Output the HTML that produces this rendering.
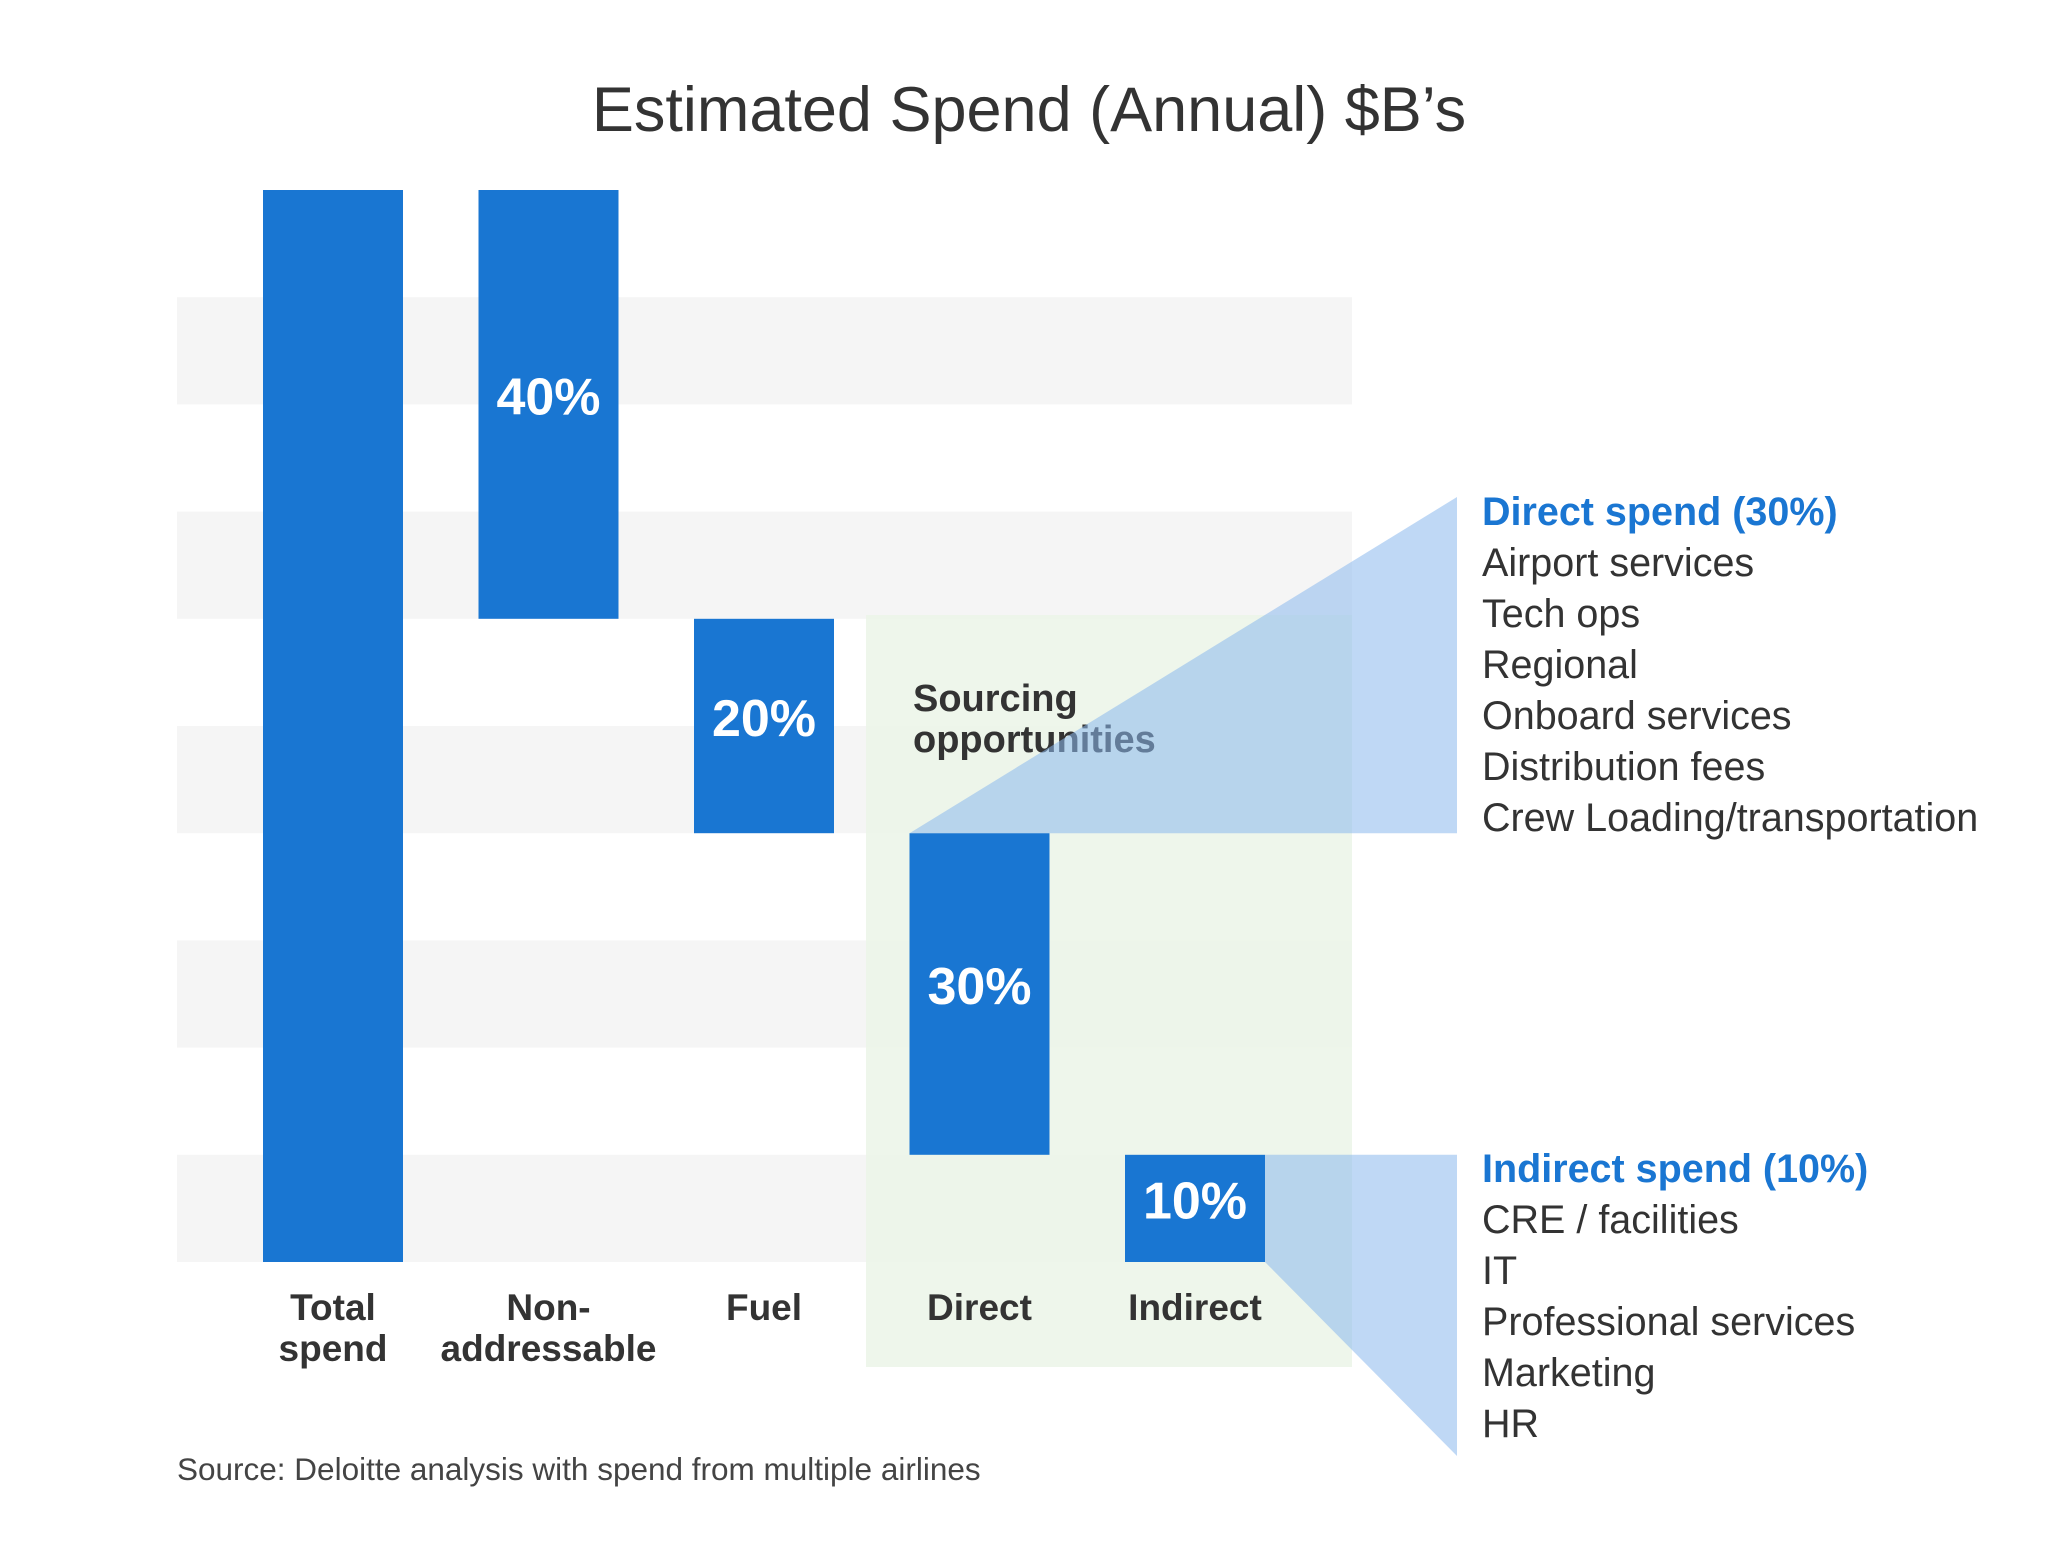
<!DOCTYPE html>
<html><head><meta charset="utf-8"><style>
html,body{margin:0;padding:0;background:#fff}
svg{display:block}
text{font-family:"Liberation Sans",sans-serif}
</style></head><body>
<svg id="chart" width="2048" height="1565" viewBox="0 0 2048 1565">
<text x="1029" y="131" text-anchor="middle" font-size="63" fill="#333">Estimated Spend (Annual) $B’s</text>
<g id="bands"></g>
<rect x="866" y="615" width="486" height="752" fill="#ebf5e8" opacity="0.85"/>
<g id="bars"></g>
<text font-size="38" font-weight="bold" fill="#333"><tspan x="913" y="711">Sourcing</tspan><tspan x="913" y="752">opportunities</tspan></text>
<polygon id="triDirect" fill="#8ab8ec" opacity="0.55"/>
<polygon id="triIndirect" fill="#8ab8ec" opacity="0.55"/>
<g id="labels"></g>
<g font-size="39.5" fill="#333">
<text x="1482" y="525" font-weight="bold" fill="#1a76d2">Direct spend (30%)</text>
<text x="1482" y="576">Airport services</text>
<text x="1482" y="627">Tech ops</text>
<text x="1482" y="678">Regional</text>
<text x="1482" y="729">Onboard services</text>
<text x="1482" y="780">Distribution fees</text>
<text x="1482" y="831">Crew Loading/transportation</text>
</g>
<g font-size="39.5" fill="#333">
<text x="1482" y="1182" font-weight="bold" fill="#1a76d2">Indirect spend (10%)</text>
<text x="1482" y="1233">CRE / facilities</text>
<text x="1482" y="1284">IT</text>
<text x="1482" y="1335">Professional services</text>
<text x="1482" y="1386">Marketing</text>
<text x="1482" y="1437">HR</text>
</g>
<text x="177" y="1480" font-size="31.5" fill="#444">Source: Deloitte analysis with spend from multiple airlines</text>
</svg>
<script>
const categories = [["Total","spend"],["Non-","addressable"],["Fuel"],["Direct"],["Indirect"]];
const values = [100, 40, 20, 30, 10];
const valueLabels = ["", "40%", "20%", "30%", "10%"];
const bandRanges = [[90,80],[70,60],[50,40],[30,20],[10,0]];

const NS = "http://www.w3.org/2000/svg";
const yTop = 190, yBot = 1262;
const y = v => yBot - (v / 100) * (yBot - yTop);
const x0 = 263, step = 215.5, bw = 140;
const xb = i => x0 + i * step;

const bands = document.getElementById('bands');
bandRanges.forEach(r => {
  const el = document.createElementNS(NS, 'rect');
  el.setAttribute('x', 177); el.setAttribute('width', 1175);
  el.setAttribute('y', y(r[0])); el.setAttribute('height', y(r[1]) - y(r[0]));
  el.setAttribute('fill', '#f5f5f5');
  
  
  bands.appendChild(el);
});

const bars = document.getElementById('bars');
const labels = document.getElementById('labels');
let level = values[0];
const geom = [];
values.forEach((v, i) => {
  let top, bottom;
  if (i === 0) { top = v; bottom = 0; }
  else { top = level; bottom = level - v; level = bottom; }
  const r = document.createElementNS(NS, 'rect');
  r.setAttribute('x', xb(i)); r.setAttribute('width', bw);
  r.setAttribute('y', y(top)); r.setAttribute('height', y(bottom) - y(top));
  r.setAttribute('fill', '#1976d2');
  
  
  bars.appendChild(r);
  geom.push({x: xb(i), top: y(top), bottom: y(bottom)});
  if (valueLabels[i]) {
    const t = document.createElementNS(NS, 'text');
    t.setAttribute('x', xb(i) + bw / 2);
    t.setAttribute('y', (y(top) + y(bottom)) / 2 + 10);
    t.setAttribute('text-anchor', 'middle');
    t.setAttribute('font-size', '52'); t.setAttribute('font-weight', 'bold');
    t.setAttribute('fill', '#fff');
    t.textContent = valueLabels[i];
    
    
    bars.appendChild(t);
  }
  const c = document.createElementNS(NS, 'text');
  c.setAttribute('text-anchor', 'middle');
  c.setAttribute('font-size', '37'); c.setAttribute('font-weight', 'bold');
  c.setAttribute('fill', '#333');
  categories[i].forEach((line, k) => {
    const ts = document.createElementNS(NS, 'tspan');
    ts.setAttribute('x', xb(i) + bw / 2);
    ts.setAttribute('y', 1320 + k * 41);
    ts.textContent = line;
    c.appendChild(ts);
  });
  
  
  labels.appendChild(c);
});

const d = geom[3], ind = geom[4];
document.getElementById('triDirect').setAttribute('points',
  `${d.x},${d.top} 1457,497 1457,${d.top}`);
document.getElementById('triIndirect').setAttribute('points',
  `${ind.x + bw},${ind.top} 1457,${ind.top} 1457,1456 ${ind.x + bw},${ind.bottom}`);
</script>
</body></html>
